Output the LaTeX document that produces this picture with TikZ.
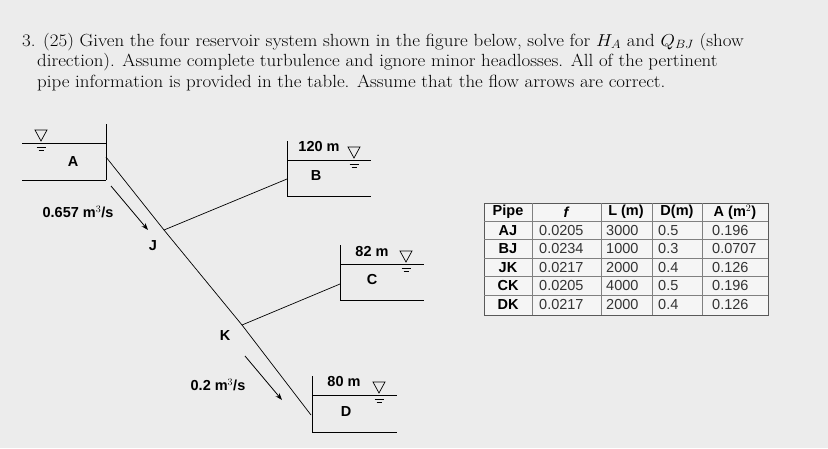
\documentclass[tikz,border=0pt]{standalone}
\usepackage{fontspec}
\usetikzlibrary{arrows.meta}
\newfontfamily\arial{Liberation Sans}
\newcommand{\wide}[1]{\scalebox{1.075}[1]{#1}}
\begin{document}
\begin{tikzpicture}[x=1pt,y=-1pt,
 wall/.style={line width=0.8pt},
 pipe/.style={line width=0.7pt},
 lab/.style={font=\arial\bfseries\fontsize{14.5}{16}\selectfont, inner sep=0pt},
 cell/.style={font=\arial\fontsize{14.5}{16}\selectfont, inner sep=0pt, text=black!80},
 bcell/.style={font=\arial\bfseries\fontsize{14.5}{16}\selectfont, inner sep=0pt},
 ttl/.style={font=\fontsize{17.6}{20}\selectfont, anchor=west, inner sep=0pt},
 flow/.style={-{Stealth[length=7pt,width=5pt]}, line width=0.8pt}]
\fill[gray!15] (0,0) rectangle (828,448);
\useasboundingbox (0,0) rectangle (828,448);
% title
\node[ttl] (t1) at (22,42) {\wide{3. (25) Given the four reservoir system shown in the figure below, solve for $H_A$ and $Q_{BJ}$ (show}};
\node[ttl] (t2) at (37,62) {\wide{direction). Assume complete turbulence and ignore minor headlosses. All of the pertinent}};
\node[ttl] (t3) at (37,83) {\wide{pipe information is provided in the table. Assume that the flow arrows are correct.}};
% water symbol: #2 = water line y
\newcommand{\wsym}[2]{%
 \draw[line width=0.7pt] (#1-6,#2-13) -- (#1+6,#2-13) -- (#1,#2-2) -- cycle;
 \draw[line width=0.7pt] (#1-4.5,#2+4) -- (#1+4.5,#2+4) (#1-2.5,#2+7) -- (#1+2.5,#2+7);}
% reservoir A
\draw[wall] (22,143) -- (106,143) (106,124) -- (106,180) (22,180) -- (106,180);
\wsym{41}{143}
\node[lab] (A) at (73,162) {A};
% B
\draw[wall] (287,141) -- (287,196) (287,160) -- (371,160) (287,196) -- (371,196);
\wsym{354}{160}
\node[lab] (hB) at (319,147) {120 m};
\node[lab] (B) at (316,176) {B};
% C
\draw[wall] (340,245) -- (340,300) (340,264) -- (424,264) (340,300) -- (424,300);
\wsym{406}{264}
\node[lab] (hC) at (372,252) {82 m};
\node[lab] (C) at (372,280) {C};
% D
\draw[wall] (312,376) -- (312,432) (312,395) -- (397,395) (312,432) -- (397,432);
\wsym{379}{395}
\node[lab] (hD) at (344,382) {80 m};
\node[lab] (D) at (346,412) {D};
% pipes
\coordinate (pA) at (106,157); \coordinate (J) at (164,230);
\coordinate (K) at (242,325); \coordinate (pD) at (311,415);
\coordinate (pB) at (287,179); \coordinate (pC) at (340,284);
\draw[pipe] (pA) -- (J) -- (K) -- (pD);
\draw[pipe] (J) -- (pB);
\draw[pipe] (K) -- (pC);
\node[lab] (Jl) at (153,246) {J};
\node[lab] (Kl) at (225,336) {K};
\node[lab] (q1) at (78,212) {0.657 m$^3$/s};
\node[lab] (q2) at (218,385) {0.2 m$^3$/s};
\coordinate (a1s) at (111,186); \coordinate (a1e) at (148,230);
\coordinate (a2s) at (245,356); \coordinate (a2e) at (282,400);
\draw[flow] (a1s) -- (a1e);
\draw[flow] (a2s) -- (a2e);
% table
\fill[gray!8] (484,203) rectangle (768,315);
\draw[gray!70!black, line width=0.6pt] (484,203) rectangle (768,315);
\foreach \x in {532,601,652,702} \draw[gray, line width=0.6pt] (\x,203) -- (\x,315);
\foreach \y in {221,239.5,258,276.5,295} \draw[gray, line width=0.6pt] (484,\y) -- (768,\y);
\node[bcell] (h1) at (508,212) {Pipe};
\node[bcell] (h2) at (566,212) {\itshape f};
\node[bcell] (h3) at (626,212) {L (m)};
\node[bcell] (h4) at (677,212) {D(m)};
\node[bcell] (h5) at (735,212) {A (m$^2$)};
\foreach \n/\f/\L/\D/\A [count=\i] in {AJ/0.0205/3000/0.5/0.196, BJ/0.0234/1000/0.3/0.0707, JK/0.0217/2000/0.4/0.126, CK/0.0205/4000/0.5/0.196, DK/0.0217/2000/0.4/0.126}{
 \node[bcell] (p\i) at (508,212+18.5*\i) {\n};
 \node[cell, anchor=west] (f\i) at (539,212+18.5*\i) {\f};
 \node[cell, anchor=west] (l\i) at (606,212+18.5*\i) {\L};
 \node[cell, anchor=west] (d\i) at (658,212+18.5*\i) {\D};
 \node[cell, anchor=west] (a\i) at (712,212+18.5*\i) {\A};
}
\end{tikzpicture}
\end{document}
